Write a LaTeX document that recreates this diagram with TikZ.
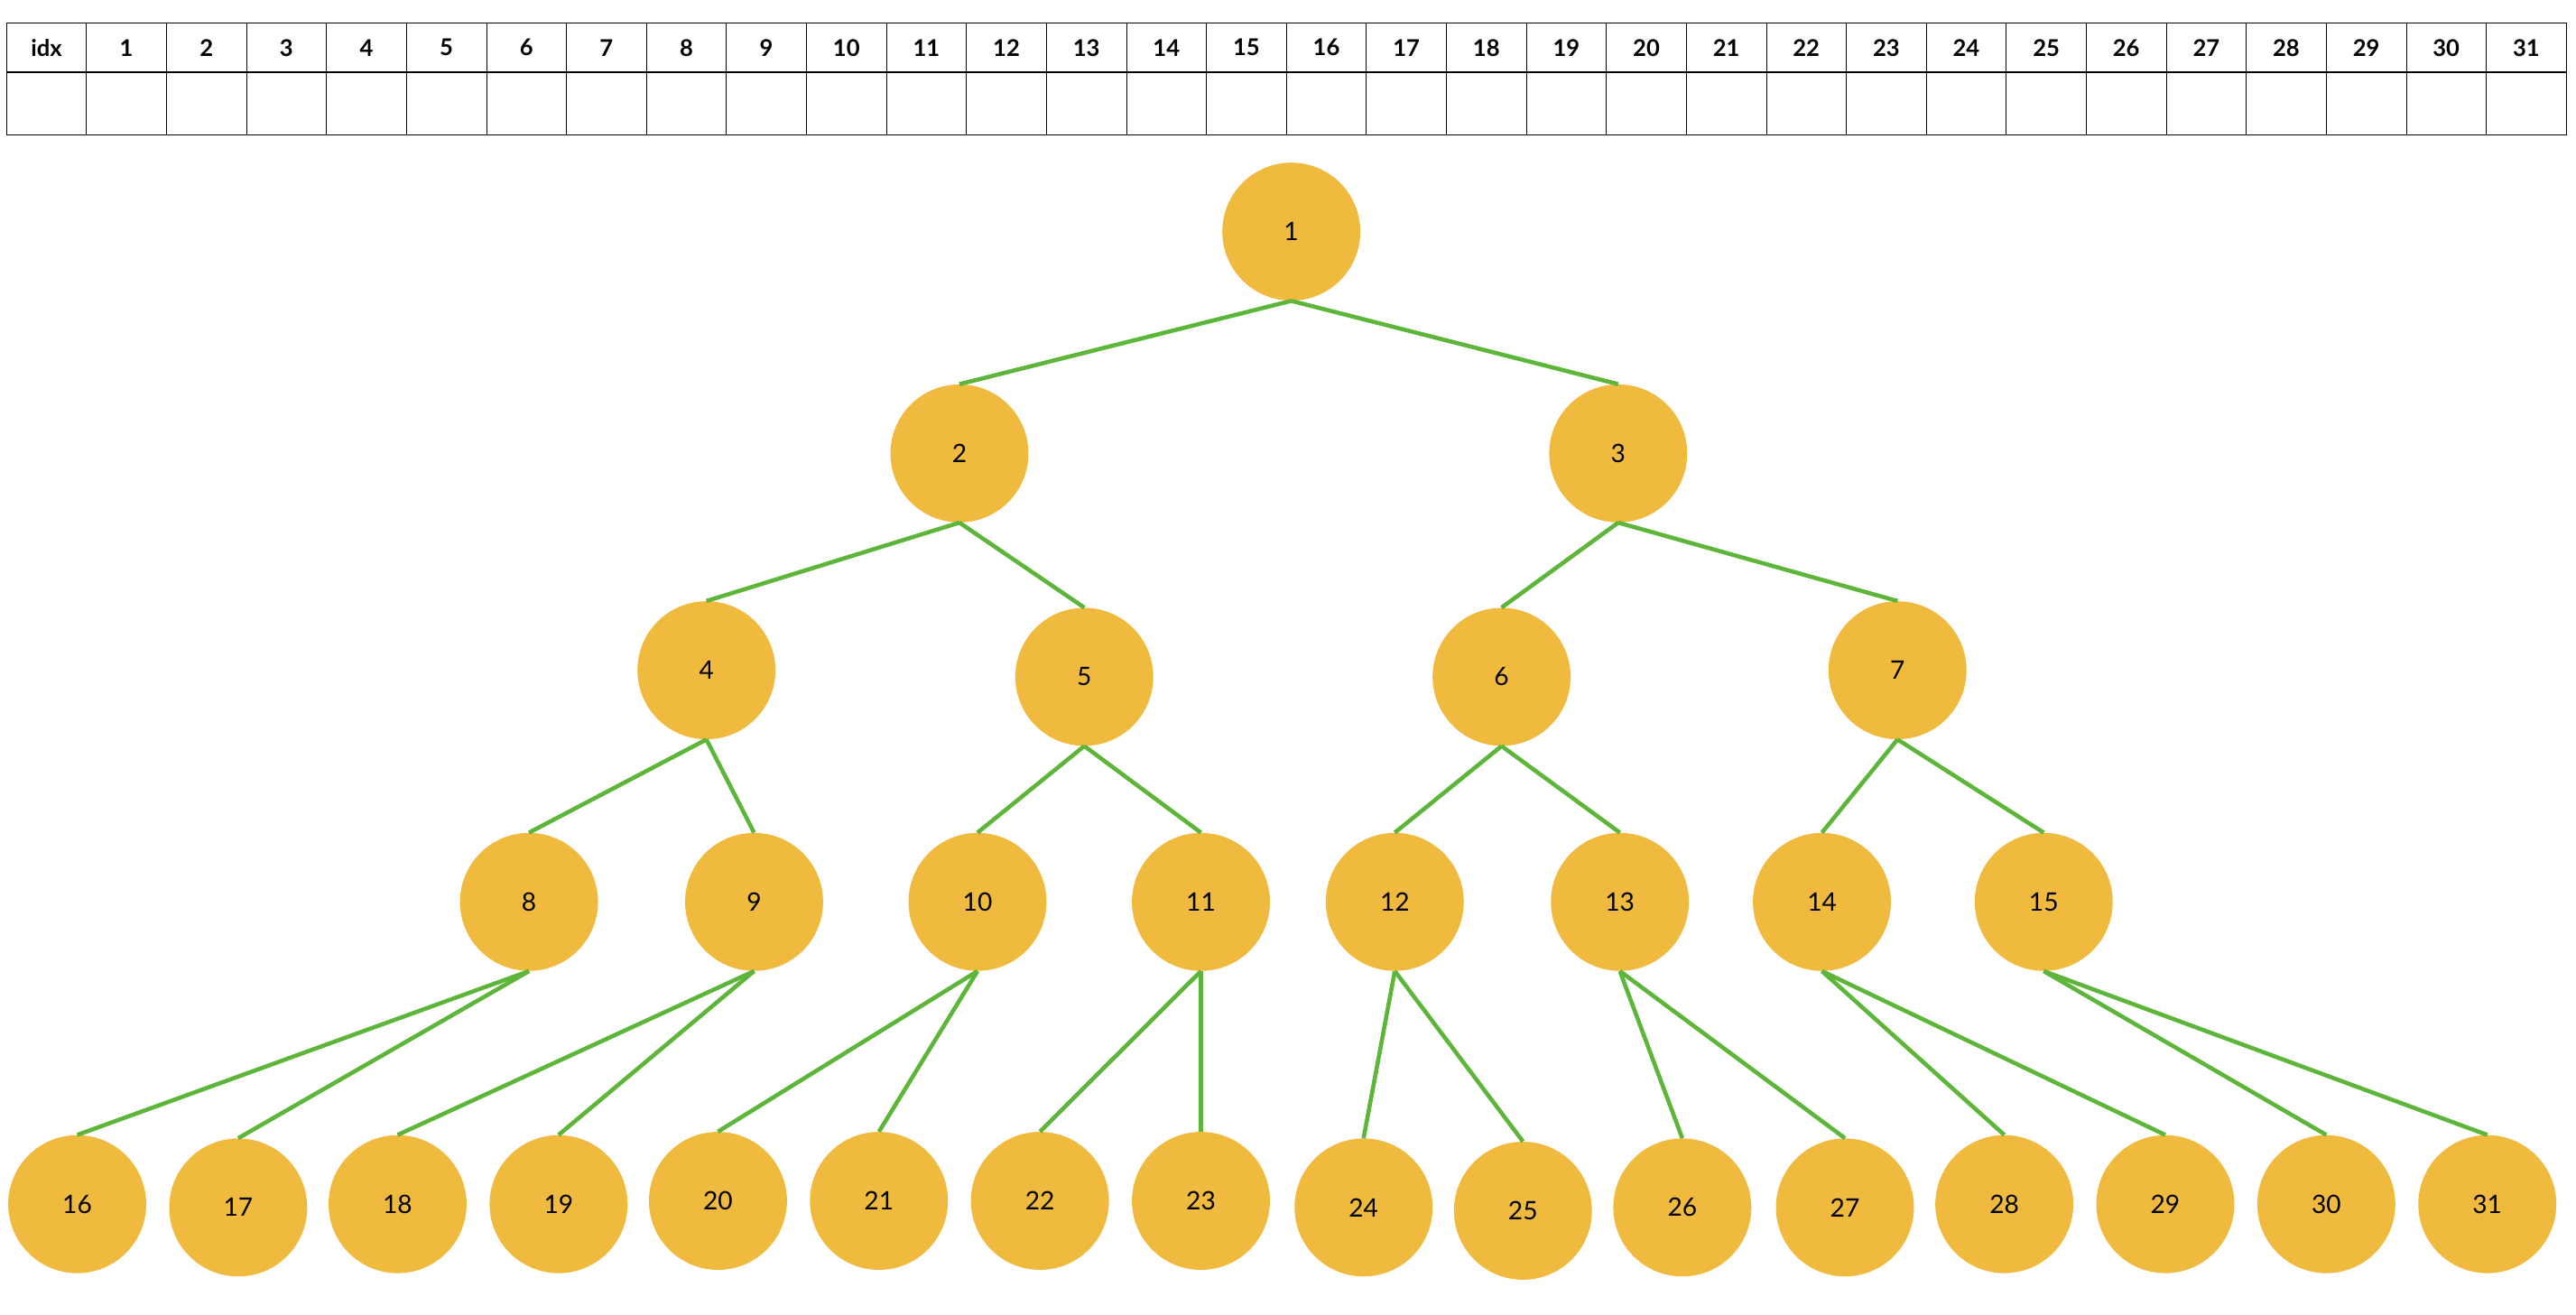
\documentclass[tikz,border=0pt]{standalone}
\usepackage{fontspec}
\setmainfont{Lato}
\begin{document}
\begin{tikzpicture}[x=0.05cm,y=-0.05cm,
  nd/.style={circle,fill=nodeY,minimum size=4.2cm,inner sep=0pt,font=\fontsize{22}{26}\selectfont},
  ed/.style={draw=edgeG,line width=3.6pt},
  hd/.style={font=\fontsize{20}{24}\selectfont\bfseries}]
\definecolor{nodeY}{HTML}{EFBA3E}
\definecolor{edgeG}{HTML}{5DB53A}
\useasboundingbox (0,0) rectangle (1568,800);
% table
\draw[line width=0.8pt] (4,14) rectangle (1562,82);
\foreach \i in {1,...,31} \draw[line width=0.8pt] ({4+\i*48.69},14) -- ({4+\i*48.69},82);
\draw[line width=2.2pt] (4,44) -- (1562,44);
\node[hd] (h0) at (28.3,29) {idx};
\foreach \i in {1,...,31} \node[hd] (h\i) at ({4+\i*48.69+24.3},29) {\i};
% nodes
\foreach \n/\x/\y in {1/786/141,2/584/276,3/985/276,4/430/408,5/660/412,6/914/412,7/1155/408,
 8/322/549,9/459/549,10/595/549,11/731/549,12/849/549,13/986/549,14/1109/549,15/1244/549,
 16/47/733,17/145/735,18/242/733,19/340/733,20/437/731,21/535/731,22/633/731,23/731/731,
 24/830/735,25/927/737,26/1024/735,27/1123/735,28/1220/733,29/1318/733,30/1416/733,31/1514/733}
 \node[nd] (n\n) at (\x,\y) {\n};
% edges
\foreach \p in {1,...,15}{
  \pgfmathtruncatemacro{\a}{2*\p}
  \pgfmathtruncatemacro{\b}{2*\p+1}
  \draw[ed] (n\p.south) -- (n\a.north);
  \draw[ed] (n\p.south) -- (n\b.north);
}
\end{tikzpicture}
\end{document}
